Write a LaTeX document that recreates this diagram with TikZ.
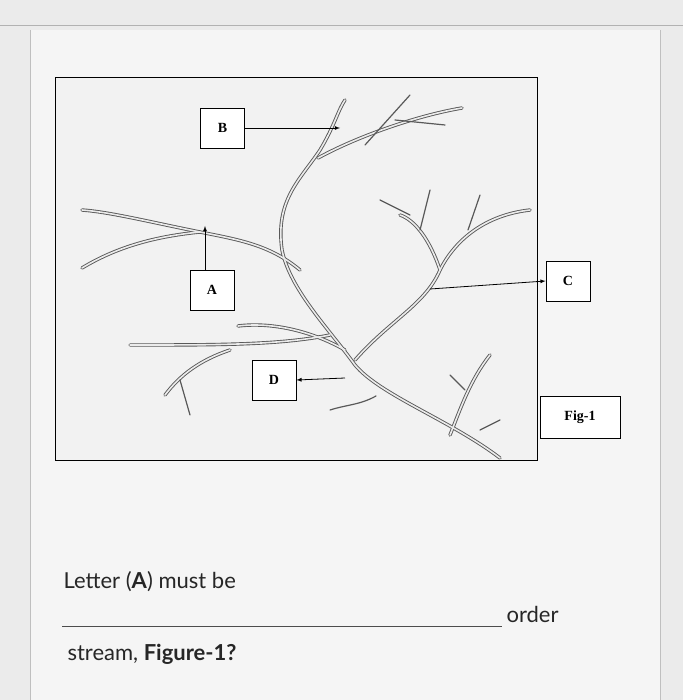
\documentclass[tikz,border=0pt]{standalone}
\usepackage{fontspec}
\setmainfont{Liberation Serif}
\newfontfamily\uifont{Lato}
\begin{document}
\begin{tikzpicture}[x=1pt,y=-1pt,
  lbl/.style={draw,line width=0.8pt,fill=white,minimum width=44pt,minimum height=40pt,font=\bfseries\fontsize{14}{16}\selectfont},
  arr/.style={-latex,line width=0.8pt},
  riv/.style={draw=black!65,line width=3.4pt,line cap=round,line join=round},
  rivin/.style={draw=white!92!black,line width=1.6pt,line cap=round,line join=round},
  thin/.style={draw=black!65,line width=1.2pt,line cap=round}]
\useasboundingbox (0,0) rectangle (683,700);
\fill[black!8] (0,0) rectangle (683,700);
\fill[black!4] (30,30) rectangle (660,700);
\draw[black!30] (0,25) -- (683,25);
\draw[black!25] (30,30) -- (30,700) (660,30) -- (660,700);
\draw[line width=1pt,fill=white!95!black] (55,78) rectangle (537,460);
% streams
\foreach \s in {riv,rivin}{
\draw[\s] (500,458) .. controls (450,420) and (380,395) .. (355,365)
  .. controls (330,330) and (290,290) .. (282,250)
  .. controls (275,200) and (300,180) .. (320,150) .. controls (335,125) and (338,110) .. (345,100);
\draw[\s] (300,270) .. controls (270,245) and (240,240) .. (200,232) .. controls (150,222) and (110,212) .. (82,210);
\draw[\s] (200,232) .. controls (160,236) and (120,245) .. (82,268);
\draw[\s] (345,350) .. controls (310,330) and (270,322) .. (238,326);
\draw[\s] (330,335) .. controls (280,345) and (220,345) .. (130,345);
\draw[\s] (230,350) .. controls (200,360) and (180,375) .. (165,395);
\draw[\s] (355,360) .. controls (390,320) and (425,305) .. (440,270) .. controls (455,240) and (485,215) .. (530,210);
\draw[\s] (318,158) .. controls (360,135) and (420,115) .. (462,108);
\draw[\s] (440,270) .. controls (430,240) and (415,220) .. (400,215);
\draw[\s] (450,435) .. controls (460,410) and (470,380) .. (490,355);
}
\draw[thin] (376,396) .. controls (360,405) and (345,405) .. (330,410);
\draw[thin] (410,215) -- (380,200) (420,230) -- (430,190) (468,230) -- (480,195) (365,145) -- (410,95) (395,120) -- (445,125);
\draw[thin] (180,380) -- (190,415) (465,390) -- (450,375) (480,430) -- (500,420);
% boxes
\node[lbl] (B) at (222.5,128) {B};
\node[lbl] (A) at (212,290) {A};
\node[lbl] (C) at (568,281) {C};
\node[lbl] (D) at (274,380) {D};
\node[lbl,minimum width=80pt,minimum height=42pt] (F) at (580,417) {Fig-1};
\coordinate (bt) at (340,128);
\coordinate (at) at (205,226);
\coordinate (cs) at (430,289);
\coordinate (ds) at (345,378);
\draw[arr] (B) -- (bt);
\draw[arr] (205,270) -- (at);
\draw[arr] (cs) -- (C.west);
\draw[arr] (ds) -- (D.east);
% question
\node[anchor=base west,font=\uifont\fontsize{22}{26}\selectfont,text=black!85] (q1) at (60,588) {Letter (\textbf{A}) must be};
\coordinate (l1) at (62,626); \coordinate (l2) at (502,626);
\draw[black!70,line width=0.8pt] (l1) -- (l2);
\node[anchor=base west,font=\uifont\fontsize{22}{26}\selectfont,text=black!85] (q2) at (503,622) {order};
\node[anchor=base west,font=\uifont\fontsize{22}{26}\selectfont,text=black!85] (q3) at (64,660) {stream, \textbf{Figure-1?}};
\end{tikzpicture}
\end{document}
